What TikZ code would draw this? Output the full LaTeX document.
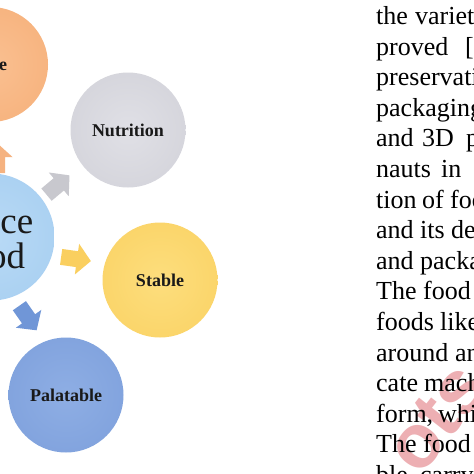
\documentclass[tikz,border=0pt]{standalone}
\usepackage{fontspec}
\setmainfont{Liberation Serif}
\newfontfamily\wmfont{Liberation Sans}
\definecolor{cOi}{RGB}{250,192,145}\definecolor{cOm}{RGB}{246,176,122}\definecolor{cOe}{RGB}{234,156,100}
\definecolor{cGi}{RGB}{224,224,230}\definecolor{cGm}{RGB}{210,210,217}\definecolor{cGe}{RGB}{186,186,194}
\definecolor{cBi}{RGB}{185,218,246}\definecolor{cBm}{RGB}{166,206,240}\definecolor{cBe}{RGB}{138,188,230}
\definecolor{cYi}{RGB}{253,222,125}\definecolor{cYm}{RGB}{250,210,100}\definecolor{cYe}{RGB}{240,196,78}
\definecolor{cPi}{RGB}{142,174,228}\definecolor{cPm}{RGB}{126,160,220}\definecolor{cPe}{RGB}{106,142,206}
\definecolor{aO}{RGB}{245,178,128}\definecolor{aG}{RGB}{200,200,206}\definecolor{aY}{RGB}{250,207,95}\definecolor{aP}{RGB}{112,150,215}
\definecolor{wm}{RGB}{234,162,166}
\pgfdeclareradialshading{orbO}{\pgfpoint{0bp}{0bp}}{color(0bp)=(cOi); color(34bp)=(cOm); color(45bp)=(cOm); color(50bp)=(cOe); color(72bp)=(cOe)}
\pgfdeclareradialshading{orbG}{\pgfpoint{0bp}{0bp}}{color(0bp)=(cGi); color(34bp)=(cGm); color(45bp)=(cGm); color(50bp)=(cGe); color(72bp)=(cGe)}
\pgfdeclareradialshading{orbB}{\pgfpoint{0bp}{0bp}}{color(0bp)=(cBi); color(34bp)=(cBm); color(45bp)=(cBm); color(50bp)=(cBe); color(72bp)=(cBe)}
\pgfdeclareradialshading{orbY}{\pgfpoint{0bp}{0bp}}{color(0bp)=(cYi); color(34bp)=(cYm); color(45bp)=(cYm); color(50bp)=(cYe); color(72bp)=(cYe)}
\pgfdeclareradialshading{orbP}{\pgfpoint{0bp}{0bp}}{color(0bp)=(cPi); color(34bp)=(cPm); color(45bp)=(cPm); color(50bp)=(cPe); color(72bp)=(cPe)}
\tikzset{
  orb/.style={circle, inner sep=0pt, minimum size=115pt, text=black!90,
    font=\fontsize{18}{20}\selectfont\bfseries},
  bigtxt/.style={anchor=base, inner sep=0pt, font=\fontsize{37}{37}\selectfont, text=black!90},
  bodytxt/.style={anchor=base west, inner sep=0pt, font=\fontsize{26}{30}\selectfont, text=black},
  blockarrow/.pic={\fill[pic actions] (-15,-8) -- (1,-8) -- (1,-15.5) -- (15,0) -- (1,15.5) -- (1,8) -- (-15,8) -- cycle;}
}
\begin{document}
\begin{tikzpicture}[x=1pt,y=-1pt]
\useasboundingbox (0,0) rectangle (474,474);
\clip (0,0) rectangle (474,474);
\fill[white] (0,0) rectangle (474,474);
% circles
\node[orb, shading=orbO] (safe) at (-9.5,64.5) {Safe};
\node[orb, shading=orbG] (nutrition) at (128,130) {Nutrition};
\node[orb, shading=orbB, minimum size=127pt] (spacefood) at (-9,237) {};
\node[bigtxt] (spacel1) at (-11,233) {Space};
\node[bigtxt] (spacel2) at (-13,268) {Food};
\node[orb, shading=orbY] (stable) at (160,280) {Stable};
\node[orb, shading=orbP] (palatable) at (66,395) {Palatable};
% arrows
\pic[fill=aO, rotate=90] at (-3,158) {blockarrow};
\pic[fill=aG, rotate=40] at (58,185) {blockarrow};
\pic[fill=aY, rotate=-8] at (76,259) {blockarrow};
\pic[fill=aP, rotate=-55] at (28,318) {blockarrow};
% watermark
\node[rotate=52, text=wm, opacity=0.85, font=\wmfont\fontsize{76}{76}\selectfont\bfseries, inner sep=0pt] (wmark) at (436,418) {ots};
% body text column (justified lines, word by word)
\node[bodytxt] (t1a) at (376,24.5) {the};   \node[bodytxt] (t1b) at (415,24.5) {variety};
\node[bodytxt] (t2a) at (376,55.1) {proved}; \node[bodytxt] (t2b) at (465,55.1) {[1};
\node[bodytxt] (t3a) at (376,85.7) {preservation};
\node[bodytxt] (t4a) at (376,116.3) {packaging};
\node[bodytxt] (t5a) at (376,146.9) {and};   \node[bodytxt] (t5b) at (422,146.9) {3D}; \node[bodytxt] (t5c) at (466,146.9) {printing};
\node[bodytxt] (t6a) at (376,177.5) {nauts}; \node[bodytxt] (t6b) at (441,177.5) {in};
\node[bodytxt] (t7a) at (376,208.1) {tion};  \node[bodytxt] (t7b) at (422,208.1) {of}; \node[bodytxt] (t7c) at (450,208.1) {food};
\node[bodytxt] (t8a) at (376,238.7) {and};   \node[bodytxt] (t8b) at (420,238.7) {its}; \node[bodytxt] (t8c) at (451,238.7) {development};
\node[bodytxt] (t9a) at (376,269.3) {and};   \node[bodytxt] (t9b) at (420,269.3) {packaging};
\node[bodytxt] (t10a) at (376,299.9) {The};  \node[bodytxt] (t10b) at (423,299.9) {food};
\node[bodytxt] (t11a) at (376,330.5) {foods}; \node[bodytxt] (t11b) at (440,330.5) {like};
\node[bodytxt] (t12a) at (376,361.1) {around}; \node[bodytxt] (t12b) at (455,361.1) {an};
\node[bodytxt] (t13a) at (376,391.7) {cate}; \node[bodytxt] (t13b) at (424,391.7) {machine};
\node[bodytxt] (t14a) at (376,422.3) {form,}; \node[bodytxt] (t14b) at (438,422.3) {which};
\node[bodytxt] (t15a) at (376,452.9) {The};  \node[bodytxt] (t15b) at (423,452.9) {food};
\node[bodytxt] (t16a) at (376,483.5) {ble};  \node[bodytxt] (t16b) at (420,483.5) {carry};
\end{tikzpicture}
\end{document}
